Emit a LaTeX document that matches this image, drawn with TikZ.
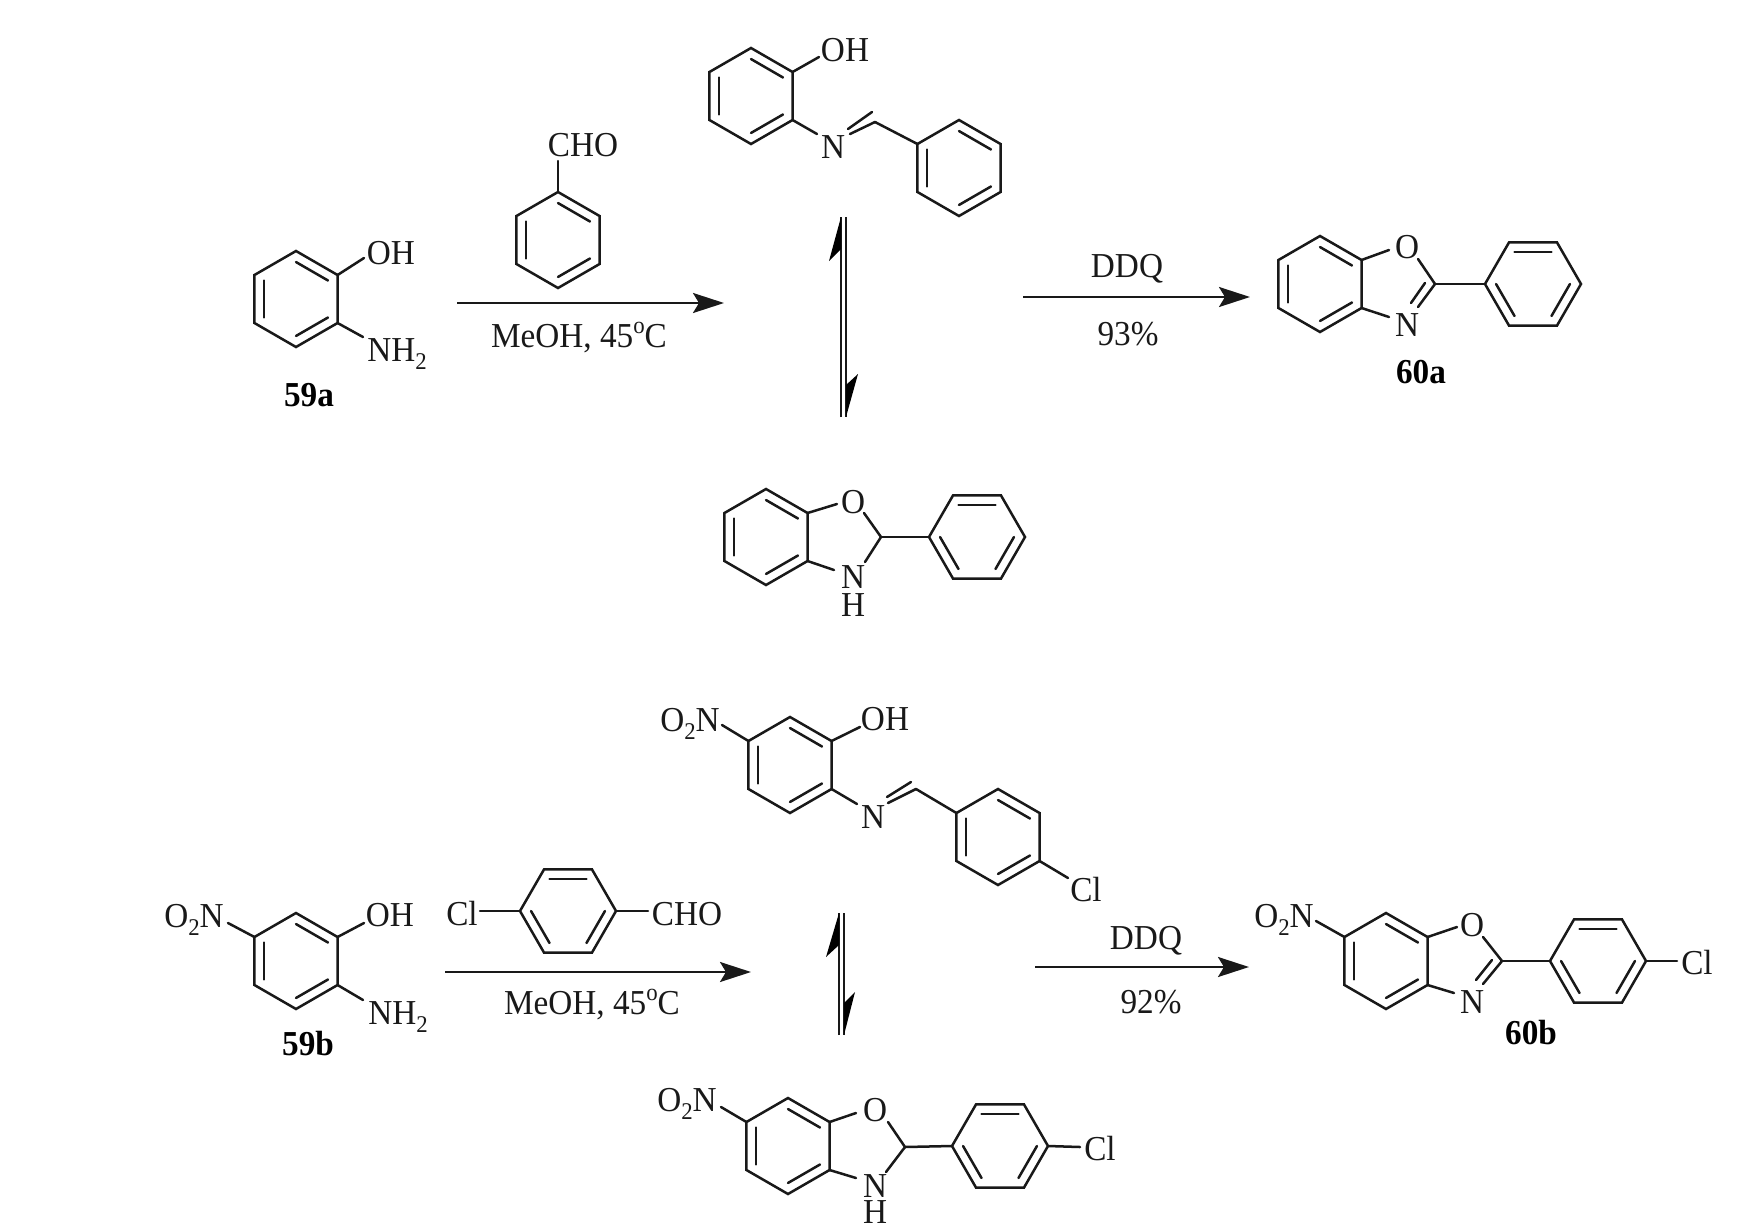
\documentclass[tikz,border=0pt]{standalone}
\usepackage{fontspec}
\setmainfont[FakeStretch=0.95]{Liberation Serif}
\usetikzlibrary{calc,arrows.meta}
\newcommand{\subtwo}{\smash{\raisebox{-0.24em}{\fontsize{24}{24}\selectfont 2}}}
\newcommand{\supo}{\smash{\raisebox{0.4em}{\fontsize{24}{24}\selectfont o}}}
\tikzset{
  bond/.style={line width=2.5pt,line cap=round,line join=miter,black!90},
  atomlabel/.style={inner sep=0pt,font=\fontsize{35}{35}\selectfont,text=black!90},
  cpdlabel/.style={inner sep=0pt,font=\fontsize{35}{35}\selectfont\bfseries,text=black},
  rxnarrow/.style={line width=2.5pt,black!90,-{Stealth[length=31pt,width=20pt,inset=6pt]}},
  eqline/.style={line width=1.6pt,black!90},
  barb/.style={fill=black,draw=none}
}
\newcommand{\benz}[4]{%
  \coordinate (#1c) at (#2,#3);
  \foreach \k in {1,...,6}{\coordinate (#1\k) at ($(#1c)+({#4+60*(\k-1)}:48)$);}
  \draw[bond] (#11)--(#12)--(#13)--(#14)--(#15)--(#16)--cycle;
  \draw[bond] ($(#11)!.23!(#1c)$)--($(#12)!.23!(#1c)$);
  \draw[bond] ($(#13)!.23!(#1c)$)--($(#14)!.23!(#1c)$);
  \draw[bond] ($(#15)!.23!(#1c)$)--($(#16)!.23!(#1c)$);
}
\newcommand{\bd}[4]{\draw[bond] (#1)--([shift={(#3,#4)}]#2.center);}
\newcommand{\eqarrow}[9]{%
  % name, xL, xR, ytop, ybot, barbL x, barbL y, barbR x, barbR y
  \coordinate (#1ta) at (#2,#5); \coordinate (#1tb) at (#2,#4);
  \coordinate (#1ba) at (#3,#4); \coordinate (#1bb) at (#3,#5);
  \draw[eqline] (#1ta)--(#1tb);
  \draw[eqline] (#1ba)--(#1bb);
  \coordinate (#1bl) at (#6,#7); \coordinate (#1br) at (#8,#9);
  \fill[barb] (#1tb)--(#1bl)--($(#1tb)+(0,32)$)--cycle;
  \fill[barb] (#1bb)--(#1br)--($(#1bb)+(0,-32)$)--cycle;
}
\begin{document}
\begin{tikzpicture}[x=1pt,y=-1pt]
\useasboundingbox[fill=white] (0,0) rectangle (1757,1227);
% 59a
\benz{a}{296}{299}{-90}
\node[atomlabel] (aoh) at (391,253) {OH};
\node[atomlabel] (anh) at (397,350) {NH\subtwo};
\node[cpdlabel] (alab) at (309,395) {59a};
\bd{a2}{aoh}{-27}{5}
\bd{a3}{anh}{-34}{-13}
% benzaldehyde
\benz{b}{558}{240}{-90}
\node[atomlabel] (bcho) at (583,145) {CHO};
\bd{b1}{bcho}{-25}{16}
\coordinate (r1s) at (457,303); \coordinate (r1e) at (724,303);
\draw[rxnarrow] (r1s)--(r1e);
\node[atomlabel] (r1t) at (579,339) {MeOH, 45\supo C};
% imine 1
\benz{c}{751}{96}{-90}
\benz{d}{959}{168}{-90}
\node[atomlabel] (coh) at (845,50) {OH};
\node[atomlabel] (cn) at (833,147) {N};
\coordinate (cch) at (875,122);
\bd{c2}{coh}{-26}{7}
\bd{c3}{cn}{-16}{-13}
\bd{cch}{cn}{17}{-13}
\draw[bond] ([shift={(-3,-10)}]cch)--([shift={(15,-18)}]cn.center);
\draw[bond] (cch)--(d6);
% equilibrium 1
\eqarrow{e}{841}{846}{217}{417}{829}{261}{858}{374}
% DDQ 1
\coordinate (r2s) at (1023,297); \coordinate (r2e) at (1250,297);
\draw[rxnarrow] (r2s)--(r2e);
\node[atomlabel] (r2t) at (1127,269) {DDQ};
\node[atomlabel] (r2b) at (1128,334) {93\%};
% 60a
\benz{f}{1320}{284}{-90}
\benz{g}{1533}{284}{0}
\node[atomlabel] (fo) at (1407,247) {O};
\node[atomlabel] (fn) at (1407,325) {N};
\coordinate (fcc) at (1435,284);
\node[cpdlabel] (flab) at (1421,372) {60a};
\bd{f2}{fo}{-18}{3}
\bd{f3}{fn}{-18}{-8}
\bd{fcc}{fo}{11}{12}
\bd{fcc}{fn}{11}{-18}
\draw[bond] ([shift={(-10,-1)}]fcc)--([shift={(4,-22)}]fn.center);
\draw[bond] (fcc)--(g4);
% intermediate 1
\benz{h}{766}{537}{-90}
\benz{i}{977}{537}{0}
\node[atomlabel] (ho) at (853,502) {O};
\node[atomlabel] (hn) at (853,577) {N};
\node[atomlabel] (hh) at (853,605) {H};
\coordinate (hcc) at (881,537);
\bd{h2}{ho}{-16}{2}
\bd{h3}{hn}{-19}{-7}
\bd{hcc}{ho}{11}{11}
\bd{hcc}{hn}{12}{-15}
\draw[bond] (hcc)--(i4);
% imine 2
\benz{j}{790}{765}{-90}
\benz{k}{998}{837}{-90}
\node[atomlabel] (jno) at (690,720) {O\subtwo N};
\node[atomlabel] (joh) at (885,719) {OH};
\node[atomlabel] (jn) at (873,817) {N};
\node[atomlabel] (kcl) at (1086,890) {Cl};
\coordinate (jch) at (916,789);
\bd{j6}{jno}{32}{5}
\bd{j2}{joh}{-25}{8}
\bd{j3}{jn}{-16}{-13}
\bd{jch}{jn}{15}{-14}
\draw[bond] ([shift={(-5,-7)}]jch)--([shift={(14,-20)}]jn.center);
\draw[bond] (jch)--(k6);
\bd{k3}{kcl}{-18}{-12}
% 59b
\benz{l}{296}{961}{-90}
\node[atomlabel] (lno) at (194,916) {O\subtwo N};
\node[atomlabel] (loh) at (390,915) {OH};
\node[atomlabel] (lnh) at (398,1013) {NH\subtwo};
\node[cpdlabel] (llab) at (308,1044) {59b};
\bd{l6}{lno}{34}{7}
\bd{l2}{loh}{-26}{8}
\bd{l3}{lnh}{-35}{-13}
% chlorobenzaldehyde
\benz{m}{568}{911}{0}
\node[atomlabel] (mcl) at (462,914) {Cl};
\node[atomlabel] (mcho) at (687,914) {CHO};
\bd{m4}{mcl}{18}{-3}
\bd{m1}{mcho}{-39}{-3}
\coordinate (r3s) at (445,972); \coordinate (r3e) at (751,972);
\draw[rxnarrow] (r3s)--(r3e);
\node[atomlabel] (r3t) at (592,1006) {MeOH, 45\supo C};
% equilibrium 2
\eqarrow{n}{839}{844}{913}{1035}{826}{957}{855}{992}
% DDQ 2
\coordinate (r4s) at (1035,967); \coordinate (r4e) at (1249,967);
\draw[rxnarrow] (r4s)--(r4e);
\node[atomlabel] (r4t) at (1146,941) {DDQ};
\node[atomlabel] (r4b) at (1151,1002) {92\%};
% 60b
\benz{o}{1386}{961}{-90}
\benz{p}{1598}{961}{0}
\node[atomlabel] (ono) at (1284,916) {O\subtwo N};
\node[atomlabel] (oo) at (1472,925) {O};
\node[atomlabel] (on) at (1472,1002) {N};
\node[atomlabel] (pcl) at (1697,963) {Cl};
\node[cpdlabel] (olab) at (1531,1033) {60b};
\coordinate (occ) at (1502,961);
\bd{o6}{ono}{32}{5}
\bd{o2}{oo}{-15}{2}
\bd{o3}{on}{-18}{-9}
\bd{occ}{oo}{11}{12}
\bd{occ}{on}{11}{-18}
\draw[bond] ([shift={(-10,-1)}]occ)--([shift={(4,-22)}]on.center);
\draw[bond] (occ)--(p4);
\bd{p1}{pcl}{-20}{-2}
% intermediate 2
\benz{q}{788}{1146}{-90}
\benz{s}{1000}{1146}{0}
\node[atomlabel] (qno) at (687,1100) {O\subtwo N};
\node[atomlabel] (qo) at (875,1110) {O};
\node[atomlabel] (qn) at (875,1186) {N};
\node[atomlabel] (qh) at (875,1212) {H};
\node[atomlabel] (scl) at (1100,1149) {Cl};
\coordinate (qcc) at (905,1147);
\bd{q6}{qno}{34}{7}
\bd{q2}{qo}{-19}{3}
\bd{q3}{qn}{-19}{-8}
\bd{qcc}{qo}{13}{12}
\bd{qcc}{qn}{11}{-14}
\draw[bond] (qcc)--(s4);
\bd{s1}{scl}{-20}{-2}
\end{tikzpicture}
\end{document}
